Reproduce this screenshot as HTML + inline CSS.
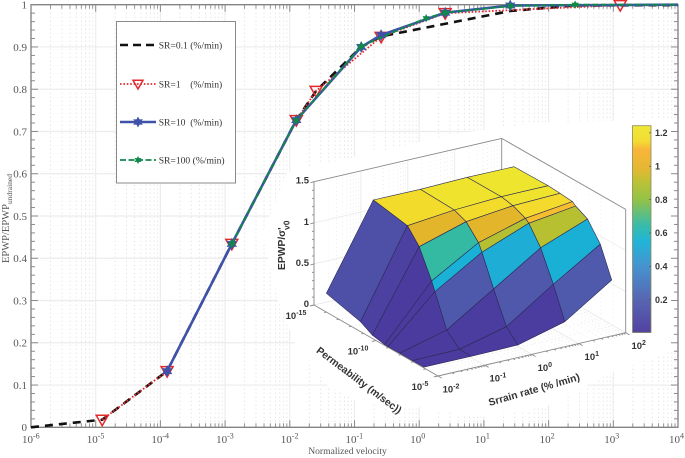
<!DOCTYPE html>
<html>
<head>
<meta charset="utf-8">
<style>
html,body{margin:0;padding:0;background:#fff;width:685px;height:458px;overflow:hidden}
svg{display:block;filter:blur(0.3px)}
.serif{font-family:"Liberation Serif",serif}
.sans{font-family:"Liberation Sans",sans-serif;font-weight:bold}
</style>
</head>
<body>
<svg id="chart" xmlns="http://www.w3.org/2000/svg" width="685" height="458" viewBox="0 0 685 458">
  <g id="main-grid"></g>
  <polygon fill="#fff" points="287,172 262,235 268,258 278,300 295,343 327,385 355,400 418,407 480,417 545,407 613,372 676,350 676,120 547,122 460,133"></polygon>
  <g id="main-axes"></g>
  <g id="series"></g>
  <g id="inset"></g>
  <g id="colorbar"></g>
  <g class="serif" fill="#555">
    <text transform="translate(9,263) rotate(-90)" font-size="10.5">EPWP/EPWP</text>
    <text transform="translate(12,204) rotate(-90)" font-size="7.5">undrained</text>
  </g>
  <text x="347.5" y="454" text-anchor="middle" class="serif" font-size="9.6" fill="#555">Normalized velocity</text>
  <g id="legend">
    <rect x="116.5" y="21.5" width="119" height="161.5" fill="#fff" stroke="#8a8a8a" stroke-width="1"></rect>
  </g>
</svg>
<script>
// ---------- main chart data ----------
const velocitySR01 = [1e-6, 1.26e-5, 1.27e-4, 1.27e-3, 1.26e-2, 2.55e-2, 1.27e-1, 2.58e-1, 25.5, 257, 1e4];
const epwpSR01 = [0, 0.018, 0.133, 0.434, 0.727, 0.796, 0.900, 0.925, 0.985, 0.998, 0.999];
const velocitySR1 = [1.26e-5, 1.27e-4, 1.27e-3, 1.26e-2, 2.55e-2, 2.58e-1, 2.52, 1280];
const epwpSR1 = [0.018, 0.133, 0.434, 0.727, 0.796, 0.924, 0.980, 0.999];
const velocitySR10 = [1.27e-4, 1.27e-3, 1.26e-2, 1.27e-1, 2.58e-1, 2.52, 25.5, 1e4];
const epwpSR10 = [0.133, 0.434, 0.727, 0.900, 0.928, 0.981, 0.998, 1.0];
const velocitySR100 = [1.27e-3, 1.26e-2, 1.27e-1, 1.28, 2.52, 25.5, 257, 1e4];
const epwpSR100 = [0.434, 0.727, 0.902, 0.968, 0.981, 0.997, 1.0, 1.0];
const yTicks = [0, 0.1, 0.2, 0.3, 0.4, 0.5, 0.6, 0.7, 0.8, 0.9, 1];
const yTickLabels = ['0', '0.1', '0.2', '0.3', '0.4', '0.5', '0.6', '0.7', '0.8', '0.9', '1'];
const xDecades = [-6, -5, -4, -3, -2, -1, 0, 1, 2, 3, 4];
const legendLabels = ['SR=0.1 (%/min)', 'SR=1 \u00A0\u00A0\u00A0(%/min)', 'SR=10 \u00A0(%/min)', 'SR=100 (%/min)'];

// ---------- inset surface data ----------
const permeability = [1e-14, 5.6e-12, 5e-11, 5e-10, 9.3e-10, 8.3e-9, 8.9e-8, 7.4e-7];
const strainRate = [0.01, 0.1, 1, 10, 100];
const surfaceRow0 = [0.229, 1.232, 1.230, 1.245, 1.242];
const surfaceRow1 = [0.120, 1.157, 1.216, 1.246, 1.248];
const surfaceRow2 = [0.040, 0.984, 1.156, 1.219, 1.238];
const surfaceRow3 = [0.010, 0.653, 0.987, 1.152, 1.223];
const surfaceRow4 = [0.010, 0.546, 0.894, 1.114, 1.193];
const surfaceRow5 = [0.010, 0.162, 0.529, 0.899, 1.117];
const surfaceRow6 = [0.010, 0.016, 0.159, 0.543, 0.901];
const surfaceRow7 = [0.010, 0.010, 0.016, 0.168, 0.544];
const surfaceRows = [surfaceRow0, surfaceRow1, surfaceRow2, surfaceRow3, surfaceRow4, surfaceRow5, surfaceRow6, surfaceRow7];
const zTicks = [0, 0.5, 1, 1.5];
const zTickLabels = ['0', '0.5', '1', '1.5'];
const permTickExps = [-15, -10, -5];
const strainTickExps = [-2, -1, 0, 1, 2];
const colorbarTicks = [0.2, 0.4, 0.6, 0.8, 1, 1.2];
const colorbarLabels = ['0.2', '0.4', '0.6', '0.8', '1', '1.2'];
const colorLimits = [0.005, 1.243];

const NS = 'http://www.w3.org/2000/svg';
function mk(parent, tag, attrs, text) {
  const e = document.createElementNS(NS, tag);
  for (const k in attrs) e.setAttribute(k, attrs[k]);
  if (text !== undefined) e.textContent = text;
  parent.appendChild(e);
  return e;
}
// ---------- main axis functions ----------
const xL = 31, xR = 678, yB = 427.3, yT = 4.7;
const sx = v => xL + (Math.log10(v) + 6) * (xR - xL) / 10;
const sy = v => yB - v * (yB - yT);

const grid = document.getElementById('main-grid');
const axes = document.getElementById('main-axes');
// grid
xDecades.forEach((d, i) => {
  const x0 = sx(Math.pow(10, d));
  const gl = mk(grid, 'line', {x1: x0, x2: x0, y1: yT, y2: yB, stroke: '#ececec', 'stroke-width': 1.2});
  
  
  if (i < xDecades.length - 1) for (let m = 2; m <= 9; m++) {
    const x = sx(m * Math.pow(10, d));
    const ml = mk(grid, 'line', {x1: x, x2: x, y1: yT, y2: yB, stroke: '#d8d8d8', 'stroke-width': 0.9, 'stroke-dasharray': '1 3'});
    
    
  }
});
yTicks.forEach(t => {
  const gl = mk(grid, 'line', {x1: xL, x2: xR, y1: sy(t), y2: sy(t), stroke: '#ececec', 'stroke-width': 1.2});
  
  
});
// axis frame
const frame = mk(axes, 'rect', {x: xL, y: yT, width: xR - xL, height: yB - yT, fill: 'none', stroke: '#7d7d7d', 'stroke-width': 1.3});


// y ticks
for (let i = 0; i <= 50; i++) {
  const y = sy(i / 50), len = i % 5 === 0 ? 7 : 4;
  mk(axes, 'line', {x1: xL, x2: xL + len, y1: y, y2: y, stroke: '#8a8a8a', 'stroke-width': 1});
  mk(axes, 'line', {x1: xR, x2: xR - len, y1: y, y2: y, stroke: '#8a8a8a', 'stroke-width': 1});
}
yTicks.forEach((t, i) => {
  const lb = mk(axes, 'text', {x: 27, y: sy(t) + 3.8, 'text-anchor': 'end', 'font-size': 11, fill: '#555', class: 'serif'}, yTickLabels[i]);
  
  
});
// x ticks
xDecades.forEach((d, i) => {
  const x0 = sx(Math.pow(10, d));
  mk(axes, 'line', {x1: x0, x2: x0, y1: yB, y2: yB - 7, stroke: '#8a8a8a', 'stroke-width': 1});
  mk(axes, 'line', {x1: x0, x2: x0, y1: yT, y2: yT + 7, stroke: '#8a8a8a', 'stroke-width': 1});
  if (i < xDecades.length - 1) for (let m = 2; m <= 9; m++) {
    const x = sx(m * Math.pow(10, d));
    mk(axes, 'line', {x1: x, x2: x, y1: yB, y2: yB - 4, stroke: '#8a8a8a', 'stroke-width': 0.9});
    mk(axes, 'line', {x1: x, x2: x, y1: yT, y2: yT + 4, stroke: '#8a8a8a', 'stroke-width': 0.9});
  }
  const lb = mk(axes, 'text', {x: x0 - 9, y: 443, 'font-size': 11, fill: '#555', class: 'serif'});
  
  
  mk(lb, 'tspan', {}, '10');
  mk(lb, 'tspan', {dy: -4.5, 'font-size': 8}, d < 0 ? '-' + (-d) : String(d));
});

// ---------- series ----------
const series = document.getElementById('series');
function pathOf(xs, ys) {
  return xs.map((x, i) => (i ? 'L' : 'M') + sx(x).toFixed(1) + ' ' + sy(ys[i]).toFixed(1)).join('');
}
function triangle(g, x, y, r) {
  return mk(g, 'polygon', {points: `${x - r},${y - r * 0.75} ${x + r},${y - r * 0.75} ${x},${y + r}`, fill: 'none', stroke: '#e3282c', 'stroke-width': 1.5});
}
function star(g, x, y, r, fill) {
  const p = [];
  for (let i = 0; i < 12; i++) {
    const a = i * Math.PI / 6 - Math.PI / 2, q = i % 2 ? r * 0.55 : r;
    p.push((x + q * Math.cos(a)).toFixed(1) + ',' + (y + q * Math.sin(a)).toFixed(1));
  }
  return mk(g, 'polygon', {points: p.join(' '), fill: fill, stroke: 'none'});
}
const s01 = mk(series, 'g', {});


mk(s01, 'path', {d: pathOf(velocitySR01, epwpSR01), fill: 'none', stroke: '#111', 'stroke-width': 2.6, 'stroke-dasharray': '8 6'});

const s1 = mk(series, 'g', {});


mk(s1, 'path', {d: pathOf(velocitySR1, epwpSR1), fill: 'none', stroke: '#e3282c', 'stroke-width': 1.8, 'stroke-dasharray': '1.6 1.8'});
velocitySR1.forEach((v, i) => triangle(s1, sx(v), sy(epwpSR1[i]), 6));

const s10 = mk(series, 'g', {});


mk(s10, 'path', {d: pathOf(velocitySR10, epwpSR10), fill: 'none', stroke: '#3f52a8', 'stroke-width': 2.6});
velocitySR10.slice(0, -1).forEach((v, i) => star(s10, sx(v), sy(epwpSR10[i]), 6, '#3f52a8'));

const s100 = mk(series, 'g', {});


mk(s100, 'path', {d: pathOf(velocitySR100, epwpSR100), fill: 'none', stroke: '#10884a', 'stroke-width': 1.8, 'stroke-dasharray': '6 2.5'});
velocitySR100.slice(0, -1).forEach((v, i) => star(s100, sx(v), sy(epwpSR100[i]), 4.2, '#10884a'));

// ---------- legend ----------
const legend = document.getElementById('legend');
const legendY = [45, 84, 122, 160];
legendLabels.forEach((t, i) => {
  const g = mk(legend, 'g', {});
  
  
  const y = legendY[i];
  if (i === 0) mk(g, 'line', {x1: 120, x2: 156, y1: y, y2: y, stroke: '#111', 'stroke-width': 2.6, 'stroke-dasharray': '8 5'});
  if (i === 1) { mk(g, 'line', {x1: 120, x2: 156, y1: y, y2: y, stroke: '#e3282c', 'stroke-width': 1.8, 'stroke-dasharray': '1.6 1.8'}); triangle(g, 138, y, 5); }
  if (i === 2) { mk(g, 'line', {x1: 120, x2: 156, y1: y, y2: y, stroke: '#3f52a8', 'stroke-width': 2.6}); star(g, 138, y, 5.5, '#3f52a8'); }
  if (i === 3) { mk(g, 'line', {x1: 120, x2: 156, y1: y, y2: y, stroke: '#10884a', 'stroke-width': 1.8, 'stroke-dasharray': '6 2.5'}); star(g, 138, y, 4, '#10884a'); }
  mk(g, 'text', {x: 158.7, y: y + 3.5, 'font-size': 9.6, fill: '#333', class: 'serif', 'xml:space': 'preserve'}, t);
});

// ---------- colormap ----------
const cmapValues = [0.005, 0.2, 0.4, 0.55, 0.65, 0.8, 0.9, 0.98, 1.1, 1.15, 1.243];
const cmapColors = [[75,58,158],[80,96,175],[63,143,206],[24,178,214],[50,185,165],[143,192,64],[182,192,48],[226,181,42],[249,178,51],[243,218,44],[238,230,46]];
function cmap(v) {
  v = Math.max(cmapValues[0], Math.min(cmapValues[cmapValues.length - 1], v));
  let i = 0;
  while (i < cmapValues.length - 2 && v > cmapValues[i + 1]) i++;
  const t = (v - cmapValues[i]) / (cmapValues[i + 1] - cmapValues[i]);
  const c = cmapColors[i].map((a, k) => Math.round(a + (cmapColors[i + 1][k] - a) * t));
  return `rgb(${c[0]},${c[1]},${c[2]})`;
}

// ---------- inset projection ----------
const front = [438, 376], kVec = [-124, -71], sVec = [187.7, -43.3], zUnit = 82.2;
function proj(k, s, z) {
  const u = (Math.log10(k) + 5) / -10, v = (Math.log10(s) + 2) / 4;
  return [front[0] + kVec[0] * u + sVec[0] * v, front[1] + kVec[1] * u + sVec[1] * v - zUnit * z];
}
const inset = document.getElementById('inset');
const wallGrid = mk(inset, 'g', {stroke: '#e6e6e6', 'stroke-width': 0.7, fill: 'none'});


function seg(g, a, b, extra) {
  return mk(g, 'line', Object.assign({x1: a[0], y1: a[1], x2: b[0], y2: b[1]}, extra || {}));
}
zTicks.forEach(z => {
  seg(wallGrid, proj(1e-15, 0.01, z), proj(1e-15, 100, z));
  seg(wallGrid, proj(1e-15, 100, z), proj(1e-5, 100, z));
});
for (let d = -2; d < 2; d++) for (let m = 1; m <= 9; m++) {
  const s = m * Math.pow(10, d);
  seg(wallGrid, proj(1e-15, s, 0), proj(1e-15, s, 1.5), m > 1 ? {'stroke-dasharray': '1 3'} : {});
  seg(wallGrid, proj(1e-15, s, 0), proj(1e-5, s, 0), m > 1 ? {'stroke-dasharray': '1 3'} : {});
}
for (let e = -15; e <= -5; e++) {
  seg(wallGrid, proj(Math.pow(10, e), 100, 0), proj(Math.pow(10, e), 100, 1.5), {'stroke-dasharray': '1 3'});
  seg(wallGrid, proj(Math.pow(10, e), 0.01, 0), proj(Math.pow(10, e), 100, 0), {'stroke-dasharray': '1 3'});
}
// back edges
const backEdges = mk(inset, 'g', {stroke: '#8a8a8a', 'stroke-width': 0.9, fill: 'none'});


seg(backEdges, proj(1e-15, 0.01, 0), proj(1e-15, 0.01, 1.5));
seg(backEdges, proj(1e-15, 0.01, 1.5), proj(1e-15, 100, 1.5));
seg(backEdges, proj(1e-15, 100, 1.5), proj(1e-5, 100, 1.5));
seg(backEdges, proj(1e-5, 100, 1.5), proj(1e-5, 100, 0));
seg(backEdges, proj(1e-5, 100, 0), proj(1e-5, 0.01, 0));
seg(backEdges, proj(1e-5, 0.01, 0), proj(1e-15, 0.01, 0));
seg(backEdges, proj(1e-15, 100, 0), proj(1e-15, 100, 1.5));
// surface facets (back to front); facet colour comes from its front-left vertex
const surface = mk(inset, 'g', {stroke: '#2b2b55', 'stroke-width': 0.6, 'stroke-linejoin': 'round'});


for (let r = 0; r < permeability.length - 1; r++) {
  for (let c = strainRate.length - 2; c >= 0; c--) {
    const a = proj(permeability[r], strainRate[c], surfaceRows[r][c]);
    const b = proj(permeability[r], strainRate[c + 1], surfaceRows[r][c + 1]);
    const d = proj(permeability[r + 1], strainRate[c + 1], surfaceRows[r + 1][c + 1]);
    const e = proj(permeability[r + 1], strainRate[c], surfaceRows[r + 1][c]);
    const facet = mk(surface, 'polygon', {points: [a, b, d, e].map(p => p[0].toFixed(1) + ',' + p[1].toFixed(1)).join(' '), fill: cmap(surfaceRows[r + 1][c])});
    
    
  }
}
// inset ticks and labels
const insetText = mk(inset, 'g', {class: 'sans', fill: '#333'});


for (let i = 0; i <= 15; i++) {
  const p = proj(1e-15, 0.01, i / 10);
  seg(backEdges, p, [p[0] - (i % 5 === 0 ? 3.5 : 2), p[1] + (i % 5 === 0 ? 1 : 0.5)]);
}
zTicks.forEach((z, i) => {
  const p = proj(1e-15, 0.01, z);
  const lb = mk(insetText, 'text', {x: p[0] - 5, y: p[1] + 2, 'text-anchor': 'end', 'font-size': 9.5}, zTickLabels[i]);
  
  
});
for (let e = -15; e <= -5; e++) {
  const p = proj(Math.pow(10, e), 0.01, 0), big = e % 5 === 0;
  seg(backEdges, p, [p[0] + sVec[0] * (big ? -0.022 : -0.012), p[1] + sVec[1] * (big ? -0.022 : -0.012)]);
}
for (let d = -2; d <= 2; d++) for (let m = 1; m <= (d === 2 ? 1 : 9); m++) {
  const p = proj(1e-5, m * Math.pow(10, d), 0), big = m === 1;
  seg(backEdges, p, [p[0] - kVec[0] * (big ? 0.03 : 0.015), p[1] - kVec[1] * (big ? 0.03 : 0.015)]);
}
function powerLabel(cx, y, exp, name) {
  const t = mk(insetText, 'text', {x: cx, y: y, 'text-anchor': 'middle', 'font-size': 9.5});
  
  
  mk(t, 'tspan', {}, '10');
  mk(t, 'tspan', {dy: -4, 'font-size': 7}, String(exp));
}
permTickExps.forEach(e => {
  const p = proj(Math.pow(10, e), 0.01, 0);
  powerLabel(p[0] - 18, p[1] + 14, e, 'permeability-tick-label');
});
strainTickExps.forEach(e => {
  const p = proj(1e-5, Math.pow(10, e), 0);
  powerLabel(p[0] + 13, p[1] + 16.5, e, 'strain-rate-tick-label');
});
const permTitle = mk(insetText, 'text', {transform: 'translate(357,383) rotate(37)', 'text-anchor': 'middle', 'font-size': 10.3}, 'Permeability (m/sec))');


const strainTitle = mk(insetText, 'text', {transform: 'translate(535,393) rotate(-16)', 'text-anchor': 'middle', 'font-size': 10.3}, 'Srrain rate  (% /min)');
strainTitle.setAttribute('xml:space', 'preserve');


const zTitle = mk(insetText, 'text', {transform: 'translate(285,270) rotate(-90)', 'font-size': 10.3}, "EPWP/\u03C3'");


const zSub = mk(insetText, 'text', {transform: 'translate(289.5,230) rotate(-90)', 'font-size': 8.5}, 'v0');



// ---------- colorbar ----------
const cb = document.getElementById('colorbar');
const cbX0 = 632.5, cbX1 = 651, cbT = 125.7, cbB = 332.3;
const cbY = v => cbB - (v - colorLimits[0]) / (colorLimits[1] - colorLimits[0]) * (cbB - cbT);
for (let y = cbT; y < cbB; y += 1) {
  const v = colorLimits[0] + (cbB - y - 0.5) / (cbB - cbT) * (colorLimits[1] - colorLimits[0]);
  mk(cb, 'rect', {x: cbX0, y: y, width: cbX1 - cbX0, height: 1.2, fill: cmap(v)});
}
const cbFrame = mk(cb, 'rect', {x: cbX0, y: cbT, width: cbX1 - cbX0, height: cbB - cbT, fill: 'none', stroke: '#8a8a5a', 'stroke-width': 0.8});


colorbarTicks.forEach((t, i) => {
  mk(cb, 'line', {x1: cbX1 - 2, x2: cbX1, y1: cbY(t), y2: cbY(t), stroke: '#555', 'stroke-width': 0.7});
  const lb = mk(cb, 'text', {x: 655, y: cbY(t) + 3.2, 'font-size': 9, fill: '#333', class: 'sans'}, colorbarLabels[i]);
  
  
});
</script>
</body>
</html>
